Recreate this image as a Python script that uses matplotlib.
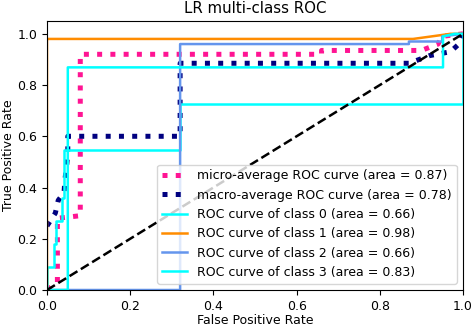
import matplotlib
matplotlib.use("Agg")
import matplotlib.pyplot as plt

# ---- data ----
micro_fpr = [0.0, 0.025, 0.025, 0.08, 0.08, 0.66, 0.66, 0.90, 0.94, 0.95, 1.0]
micro_tpr = [0.0, 0.03, 0.28, 0.29, 0.92, 0.92, 0.935, 0.935, 0.96, 0.99, 1.0]
micro_auc = 0.87

macro_fpr = [0.0, 0.02, 0.027, 0.041, 0.043, 0.047, 0.05, 0.05, 0.32, 0.32, 0.87, 0.92, 0.97, 0.99, 1.0]
macro_tpr = [0.25, 0.30, 0.35, 0.38, 0.43, 0.48, 0.54, 0.60, 0.60, 0.885, 0.885, 0.915, 0.93, 0.96, 1.0]
macro_auc = 0.78

class0_fpr = [0.0, 0.0, 0.017, 0.017, 0.022, 0.022, 0.035, 0.035, 0.04, 0.04, 0.32, 0.32, 1.0, 1.0]
class0_tpr = [0.0, 0.09, 0.09, 0.18, 0.18, 0.27, 0.27, 0.36, 0.36, 0.545, 0.545, 0.727, 0.727, 1.0]

class1_fpr = [0.0, 0.0, 0.88, 0.97, 1.0]
class1_tpr = [0.0, 0.98, 0.98, 1.0, 1.0]

class2_fpr = [0.0, 0.32, 0.32, 0.87, 0.87, 0.95, 0.95, 1.0]
class2_tpr = [0.0, 0.0, 0.96, 0.96, 0.97, 0.97, 0.99, 1.0]

class3_fpr = [0.0, 0.05, 0.05, 0.952, 0.952, 0.98, 1.0]
class3_tpr = [0.0, 0.0, 0.869, 0.869, 0.99, 1.0, 1.0]

class_fprs = [class0_fpr, class1_fpr, class2_fpr, class3_fpr]
class_tprs = [class0_tpr, class1_tpr, class2_tpr, class3_tpr]
class_aucs = [0.66, 0.98, 0.66, 0.83]
class_colors = ["aqua", "darkorange", "cornflowerblue", "aqua"]

title = "LR multi-class ROC"

# ---- plot ----
plt.rcParams["font.size"] = 9
fig = plt.figure(figsize=(4.74, 3.27), dpi=100)
ax = fig.add_axes([47 / 474, 1 - 290 / 327, 416 / 474, 269 / 327])

lw = 1.8
ax.plot(micro_fpr, micro_tpr, color="deeppink", linestyle=":", linewidth=3.6,
        label="micro-average ROC curve (area = {0:0.2f})".format(micro_auc))
ax.plot(macro_fpr, macro_tpr, color="navy", linestyle=":", linewidth=3.6,
        label="macro-average ROC curve (area = {0:0.2f})".format(macro_auc))
for i, (f, t, a, c) in enumerate(zip(class_fprs, class_tprs, class_aucs, class_colors)):
    ax.plot(f, t, color=c, lw=lw,
            label="ROC curve of class {0} (area = {1:0.2f})".format(i, a))
ax.plot([0, 1], [0, 1], "k--", lw=lw)

ax.set_xlim(0.0, 1.0)
ax.set_ylim(0.0, 1.05)
ax.set_xlabel("False Positive Rate", labelpad=1.0)
ax.set_ylabel("True Positive Rate", labelpad=1.5)
ax.set_title(title)
ax.legend(loc="lower right", fontsize=9)

fig.savefig("out.png", dpi=100)
